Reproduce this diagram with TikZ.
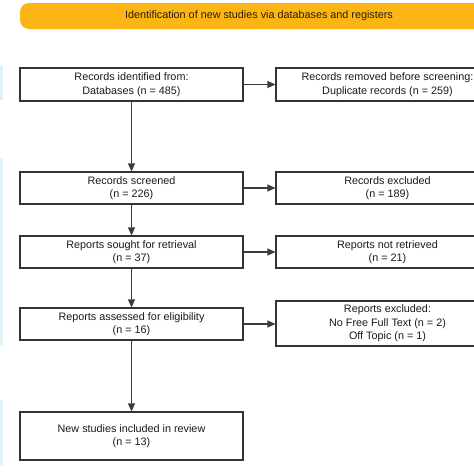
\documentclass[tikz,border=0pt]{standalone}
\usepackage{fontspec}
\setmainfont{Liberation Sans}
\usetikzlibrary{arrows.meta}
\definecolor{banner}{HTML}{FDB515}
\definecolor{boxline}{HTML}{333333}
\definecolor{arrowcol}{HTML}{3C3C3C}
\definecolor{sidecyan}{HTML}{DDF3F8}
\definecolor{bannertext}{HTML}{2A1E05}
\definecolor{bodytext}{HTML}{1A1A1A}
\begin{document}
\begin{tikzpicture}[x=1pt,y=-1pt,
  stagebox/.style={draw=boxline, line width=1.1pt, fill=white, align=center,
    minimum width=223pt, inner sep=0pt, text=bodytext,
    font=\fontsize{10.8}{13.5}\selectfont},
  flowarrow/.style={draw=arrowcol, line width=1.1pt, -{Triangle[length=8pt,width=7pt]}}]
\useasboundingbox (0,0) rectangle (474,474);
\clip (0,0) rectangle (474,474);
\fill[white] (0,0) rectangle (474,474);
% faint side labels
\fill[sidecyan] (0,65) rectangle (3,100);
\fill[sidecyan] (0,158) rectangle (3,345);
\fill[sidecyan] (0,400) rectangle (3,465);
% banner
\fill[banner, rounded corners=9pt] (20,3) rectangle (498,29);
\node[text=bannertext, font=\fontsize{10.8}{13.5}\selectfont] (bannertxt) at (259,16) {Identification of new studies via databases and registers};
% left column
\node[stagebox, minimum height=33pt] (ident) at (131.5,84.5) {Records identified from:\\Databases (n = 485)};
\node[stagebox, minimum height=32pt] (screen) at (131.5,188) {Records screened\\(n = 226)};
\node[stagebox, minimum height=32pt] (sought) at (131.5,252) {Reports sought for retrieval\\(n = 37)};
\node[stagebox, minimum height=32pt] (assess) at (131.5,324) {Reports assessed for eligibility\\(n = 16)};
\node[stagebox, minimum height=48pt] (incl) at (131.5,436) {New studies included in review\\(n = 13)};
% right column
\node[stagebox, minimum height=33pt] (removed) at (387.5,84.5) {Records removed before screening:\\Duplicate records (n = 259)};
\node[stagebox, minimum height=32pt] (excl) at (387.5,188) {Records excluded\\(n = 189)};
\node[stagebox, minimum height=32pt] (notret) at (387.5,252) {Reports not retrieved\\(n = 21)};
\node[stagebox, minimum height=45pt] (repexcl) at (387.5,323.5) {Reports excluded:\\No Free Full Text (n = 2)\\Off Topic (n = 1)};
% arrows
\draw[flowarrow] (ident) -- (screen);
\draw[flowarrow] (screen) -- (sought);
\draw[flowarrow] (sought) -- (assess);
\draw[flowarrow] (assess) -- (incl);
\draw[flowarrow] (ident) -- (removed);
\draw[flowarrow] (screen) -- (excl);
\draw[flowarrow] (sought) -- (notret);
\draw[flowarrow] (assess.east) -- (assess.east -| repexcl.west);
\end{tikzpicture}
\end{document}
